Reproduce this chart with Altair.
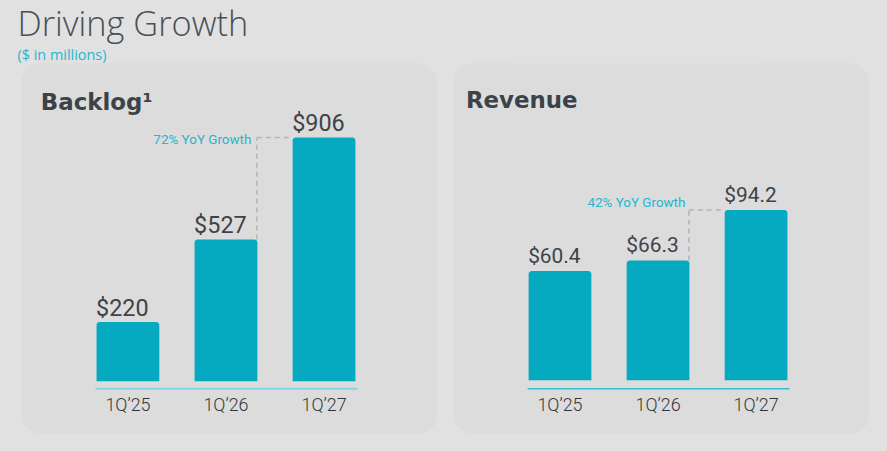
import altair as alt
import pandas as pd

quarters = ["1Q’25", "1Q’26", "1Q’27"]
backlog_values = [220, 527, 906]
backlog_labels = ["$220", "$527", "$906"]
revenue_values = [60.4, 66.3, 94.2]
revenue_labels = ["$60.4", "$66.3", "$94.2"]
growth_labels = ["72% YoY Growth", "42% YoY Growth"]
panel_titles = ["Backlog¹", "Revenue"]

TEAL = "#05a9c0"
CYAN_TEXT = "#27b5cf"
DARK = "#3d4349"
PANEL_W = 418
PANEL_H = 372


def panel(title, values, labels, growth, ydomain, label_size, label_dy,
          growth_dx, growth_dy, base_color, base_width, title_dx, title_off):
    df = pd.DataFrame({"quarter": quarters, "value": values, "label": labels})
    xscale = alt.Scale(domain=quarters, range=[76, 336], paddingInner=0.36, paddingOuter=0)
    xaxis = alt.Axis(title=None, labelAngle=0, domain=False, ticks=False,
                     labelPadding=0, offset=-27.5, grid=False,
                     labelFont="Roboto", labelFontSize=18, labelFontWeight=300,
                     labelColor="#30363c", labelBaseline="middle")
    xenc = alt.X("quarter:N", scale=xscale, axis=xaxis)
    yenc = alt.Y("value:Q", scale=alt.Scale(domain=ydomain, nice=False, zero=False),
                 axis=None)

    bars = alt.Chart(df).mark_bar(
        color=TEAL, cornerRadiusTopLeft=3, cornerRadiusTopRight=3
    ).encode(x=xenc, y=yenc, y2=alt.datum(0))

    vals = alt.Chart(df).mark_text(
        align="left", baseline="alphabetic", dx=-32, dy=label_dy,
        font="Roboto", fontSize=label_size, color=DARK
    ).encode(x=xenc, y=yenc, text="label:N")

    base_line = alt.Chart(pd.DataFrame({"k": [0]})).mark_rule(
        color=base_color, strokeWidth=base_width
    ).encode(x=alt.value(75), x2=alt.value(338), y=alt.value(327.5))

    conn_v_df = pd.DataFrame({"quarter": [quarters[1]], "value": [values[1]],
                              "value2": [values[2]]})
    conn_v = alt.Chart(conn_v_df).mark_rule(
        xOffset=31, strokeDash=[5, 4], color="#b4b4b4", strokeWidth=1.5
    ).encode(x=xenc, y=yenc, y2="value2:Q")

    conn_h_df = pd.DataFrame({"quarter": [quarters[1]], "quarter2": [quarters[2]],
                              "value": [values[2]]})
    conn_h = alt.Chart(conn_h_df).mark_rule(
        xOffset=31, x2Offset=-31.5, strokeDash=[5, 4], color="#b4b4b4", strokeWidth=1.5
    ).encode(x=xenc, x2="quarter2:N", y=yenc)

    g_df = pd.DataFrame({"quarter": [quarters[1]], "value": [values[2]],
                         "text": [growth]})
    gtext = alt.Chart(g_df).mark_text(
        align="right", baseline="middle", dx=growth_dx, dy=growth_dy,
        font="Roboto", fontSize=13.5, color=CYAN_TEXT
    ).encode(x=xenc, y=yenc, text="text:N")

    return alt.layer(base_line, conn_v, conn_h, bars, vals, gtext).properties(
        width=PANEL_W, height=PANEL_H,
        title=alt.TitleParams(
            title, anchor="start", dx=title_dx, offset=title_off,
            baseline="alphabetic", font="DejaVu Sans", fontSize=23,
            fontWeight="bold", color="#3d4249"
        ),
    )


left = panel(panel_titles[0], backlog_values, backlog_labels, growth_labels[0],
             [-192.3, 1183.3], 23.5, -6, 25.5, 3, "#82d5e2", 2, 20, -70.5)
right = panel(panel_titles[1], revenue_values, revenue_labels, growth_labels[1],
              [-29.2, 175.7], 21, -8, 27.5, -7, "#35bdd2", 1.5, 13, -68)

chart = alt.hconcat(left, right, spacing=14).properties(
    title=alt.TitleParams(
        "Driving Growth", subtitle="($ in millions)", anchor="start", dx=-3,
        font="Open Sans", fontSize=34.5, fontWeight=300, color="#4a4f55",
        subtitleFont="Open Sans", subtitleFontSize=14.5, subtitleColor="#27b5cf",
        subtitlePadding=5.5, offset=-1, baseline="top"
    ),
    padding={"left": 17, "top": 7, "right": 17, "bottom": 16},
).configure(background="#e1e1e1").configure_view(
    fill="#dcdcdc", cornerRadius=20, stroke="transparent"
)

chart.save("out.html", embed_options={"renderer": "svg", "actions": False})
